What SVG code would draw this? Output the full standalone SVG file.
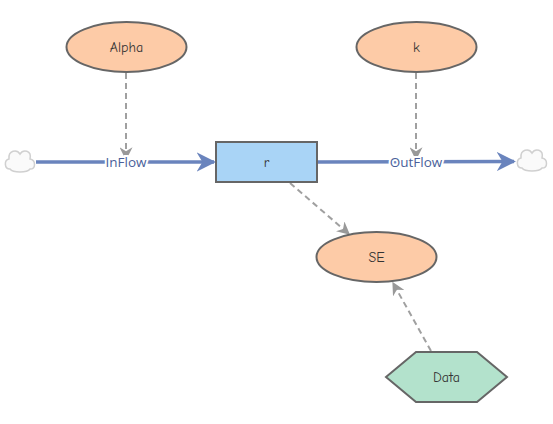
<svg xmlns="http://www.w3.org/2000/svg" width="553" height="424" viewBox="0 0 553 424">
<style>
.aux{fill:#fdcba7;stroke:#666;stroke-width:2}
.lbl{font-family:"Comic Neue","Liberation Sans",sans-serif;font-size:14px;fill:#333;text-anchor:middle;dominant-baseline:central}
.flow{stroke:#6a84bd;stroke-width:3.5;fill:none}
.flbl{font-family:"Open Sans","DejaVu Sans",sans-serif;font-size:13.5px;fill:#4a5f9a;text-anchor:middle;dominant-baseline:central;stroke:#fff;stroke-width:4;paint-order:stroke}
.link{stroke:#a0a0a0;stroke-width:2;stroke-dasharray:6 4;fill:none}
.cloud{fill:#fafafa;stroke:#d0d0d0;stroke-width:1.5}
</style>
<defs>
<marker id="fa" viewBox="0 0 10 10" refX="9" refY="5" markerWidth="5.5" markerHeight="5.5" orient="auto" markerUnits="strokeWidth"><path d="M0,0 L10,5 L0,10 L3,5 Z" fill="#6a84bd"/></marker>
<marker id="la" viewBox="0 0 10 10" refX="9" refY="5" markerWidth="6.5" markerHeight="6.5" orient="auto" markerUnits="strokeWidth"><path d="M0,0 L10,5 L0,10 L3,5 Z" fill="#999"/></marker>
<path id="cl" d="M-10,7 C-16,7 -16,-2 -11,-3 C-12,-12 -3,-13 0,-8 C3,-13 12,-12 10,-3 C16,-2 16,7 10,7 C7,11 -7,11 -10,7 Z"/>
</defs>
<g id="connectors">
<line class="link" x1="126" y1="73" x2="126" y2="159" marker-end="url(#la)"/>
<line class="link" x1="416" y1="73" x2="416" y2="159" marker-end="url(#la)"/>
<line class="link" x1="290" y1="183" x2="349" y2="234" marker-end="url(#la)"/>
<line class="link" x1="431" y1="351" x2="393" y2="283" marker-end="url(#la)"/>
</g>
<g id="InFlow">
<line class="flow" x1="36" y1="162" x2="214" y2="162" marker-end="url(#fa)"/>
<text class="flbl" x="126" y="162">InFlow</text>
</g>
<g id="OutFlow">
<line class="flow" x1="317" y1="162" x2="514" y2="161.5" marker-end="url(#fa)"/>
<text class="flbl" x="416" y="162">OutFlow</text>
</g>
<g id="cloud1"><use href="#cl" class="cloud" x="20" y="162"/></g>
<g id="cloud2"><use href="#cl" class="cloud" x="532" y="161"/></g>
<g id="Alpha"><ellipse class="aux" cx="126.5" cy="47" rx="60" ry="25"/><text class="lbl" x="126.5" y="47">Alpha</text></g>
<g id="k"><ellipse class="aux" cx="416.5" cy="47" rx="60" ry="25"/><text class="lbl" x="416.5" y="47">k</text></g>
<g id="r"><rect x="216" y="142" width="101" height="40" fill="#a9d4f6" stroke="#666" stroke-width="2"/><text class="lbl" x="266.5" y="162">r</text></g>
<g id="SE"><ellipse class="aux" cx="376.5" cy="257" rx="60" ry="25"/><text class="lbl" x="376.5" y="257">SE</text></g>
<g id="Data"><polygon points="386,377 416,352 477,352 507,377 477,402 416,402" fill="#b3e2cc" stroke="#666" stroke-width="2"/><text class="lbl" x="446.5" y="377">Data</text></g>
</svg>
